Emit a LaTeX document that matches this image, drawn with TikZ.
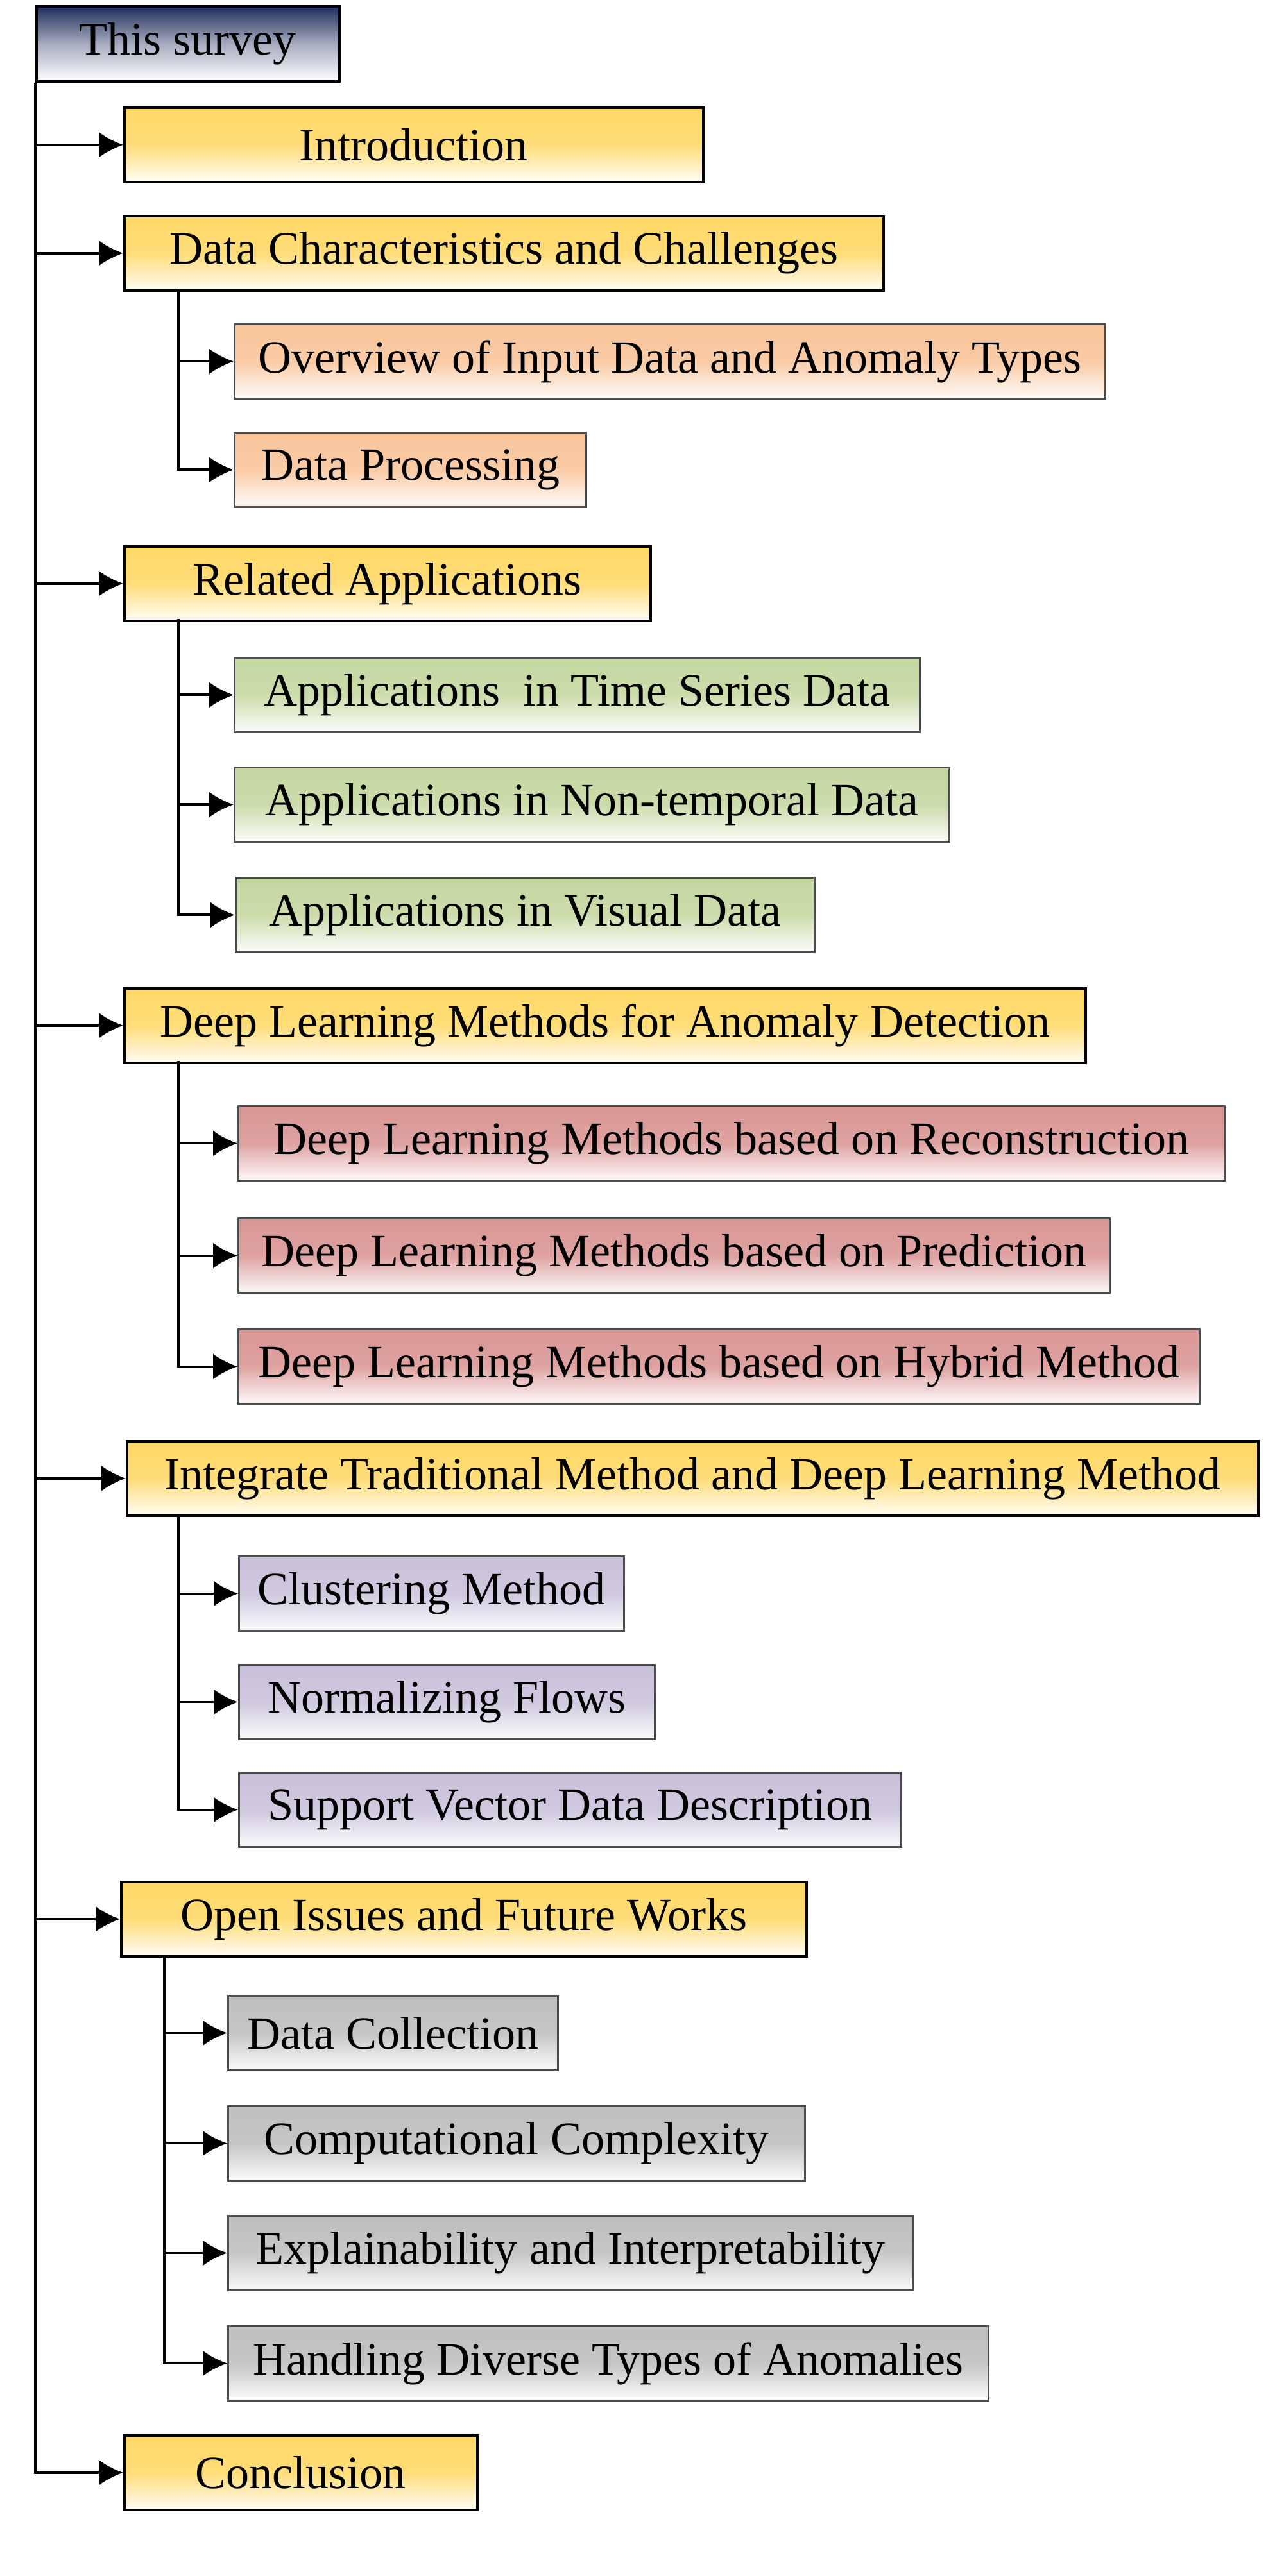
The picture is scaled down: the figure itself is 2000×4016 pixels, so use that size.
\documentclass[tikz,border=0pt]{standalone}
\usepackage{fontspec}
\setmainfont{Liberation Serif}
\usetikzlibrary{arrows.meta}

\definecolor{navy}{RGB}{32,45,92}
\definecolor{gold}{RGB}{255,216,102}
\definecolor{peach}{RGB}{248,196,154}
\definecolor{sage}{RGB}{196,215,160}
\definecolor{rose}{RGB}{217,150,148}
\definecolor{lavender}{RGB}{201,193,218}
\definecolor{silver}{RGB}{190,190,190}

\begin{document}
\begin{tikzpicture}[x=0.1mm, y=-0.1mm,
				>={Latex[length=3.8mm, width=4mm]},   %Pfeilspitzen
				kasten/.style={draw, anchor=north west, minimum height=11.6mm, inner sep=0pt,
					font=\fontsize{20.5}{24}\selectfont,
					top color=#1, bottom color=#1!6!white, middle color=#1!88!white},
				wurzel/.style={draw, line width=1pt, anchor=north west, minimum height=11.7mm, inner sep=0pt,
					font=\fontsize{20.5}{24}\selectfont,
					top color=navy, bottom color=white, middle color=navy!40!white},
				stufe1/.style={kasten=gold, line width=1pt},
				stufe2/.style={kasten=#1, draw=black!70, line width=0.8pt},
				pfeil/.style={->, line width=1.1pt}]
				%Bildbereich
				\useasboundingbox (0,0) rectangle (2000,4016);
				%Wurzel
				\node[wurzel, minimum width=47.2mm] (survey) at (55,8) {This survey};
				%Kapitel und Unterkapitel
				\node[stufe1, minimum width=90.2mm] (intro) at (192,166) {Introduction};
				\node[stufe1, minimum width=118.3mm] (datachar) at (192,335) {Data Characteristics and Challenges};
				\node[stufe2=peach, minimum width=135.7mm] (overview) at (364,504) {Overview of Input Data and Anomaly Types};
				\node[stufe2=peach, minimum width=54.8mm] (dataproc) at (364,673) {Data Processing};
				\node[stufe1, minimum width=82.0mm] (relapp) at (192,850) {Related Applications};
				\node[stufe2=sage, minimum width=106.8mm] (apptime) at (364,1024) {Applications\ \ in Time Series Data};
				\node[stufe2=sage, minimum width=111.4mm] (appnon) at (364,1195) {Applications in Non-temporal Data};
				\node[stufe2=sage, minimum width=90.2mm] (appvis) at (366,1367) {Applications in Visual Data};
				\node[stufe1, minimum width=149.8mm] (dlad) at (192,1539) {Deep Learning Methods for Anomaly Detection};
				\node[stufe2=rose, minimum width=153.7mm] (recon) at (370,1723) {Deep Learning Methods based on Reconstruction};
				\node[stufe2=rose, minimum width=135.8mm] (pred) at (370,1898) {Deep Learning Methods based on Prediction};
				\node[stufe2=rose, minimum width=149.8mm] (hybrid) at (370,2071) {Deep Learning Methods based on Hybrid Method};
				\node[stufe1, minimum width=176.3mm] (integ) at (196,2245) {Integrate Traditional Method and Deep Learning Method};
				\node[stufe2=lavender, minimum width=60.0mm] (clust) at (371,2425) {Clustering Method};
				\node[stufe2=lavender, minimum width=64.8mm] (normflow) at (371,2594) {Normalizing Flows};
				\node[stufe2=lavender, minimum width=103.2mm] (svdd) at (371,2762) {Support Vector Data Description};
				\node[stufe1, minimum width=106.8mm] (open) at (187,2932) {Open Issues and Future Works};
				\node[stufe2=silver, minimum width=51.4mm] (datacoll) at (354,3110) {Data Collection};
				\node[stufe2=silver, minimum width=89.9mm] (comp) at (354,3282) {Computational Complexity};
				\node[stufe2=silver, minimum width=106.7mm] (expl) at (354,3453) {Explainability and Interpretability};
				\node[stufe2=silver, minimum width=118.5mm] (handle) at (354,3625) {Handling Diverse Types of Anomalies};
				\node[stufe1, minimum width=55.0mm] (concl) at (192,3795) {Conclusion};
				%Hauptlinie
				\draw[pfeil] (survey.south west) |- (concl.west);
				\foreach \n in {intro,datachar,relapp,dlad,integ,open}
					\draw[pfeil] (survey.south west |- \n.west) -- (\n.west);
				%Unterlinien
				\coordinate (dc) at (278,451);
				\draw[pfeil] (dc) |- (dataproc.west);
				\draw[pfeil] (dc |- overview.west) -- (overview.west);
				\coordinate (ra) at (278,965);
				\draw[pfeil] (ra) |- (appvis.west);
				\foreach \n in {apptime,appnon} \draw[pfeil] (ra |- \n.west) -- (\n.west);
				\coordinate (dl) at (278,1654);
				\draw[pfeil] (dl) |- (hybrid.west);
				\foreach \n in {recon,pred} \draw[pfeil] (dl |- \n.west) -- (\n.west);
				\coordinate (it) at (278,2362);
				\draw[pfeil] (it) |- (svdd.west);
				\foreach \n in {clust,normflow} \draw[pfeil] (it |- \n.west) -- (\n.west);
				\coordinate (oi) at (256,3048);
				\draw[pfeil] (oi) |- (handle.west);
				\foreach \n in {datacoll,comp,expl} \draw[pfeil] (oi |- \n.west) -- (\n.west);
			\end{tikzpicture}
\end{document}
